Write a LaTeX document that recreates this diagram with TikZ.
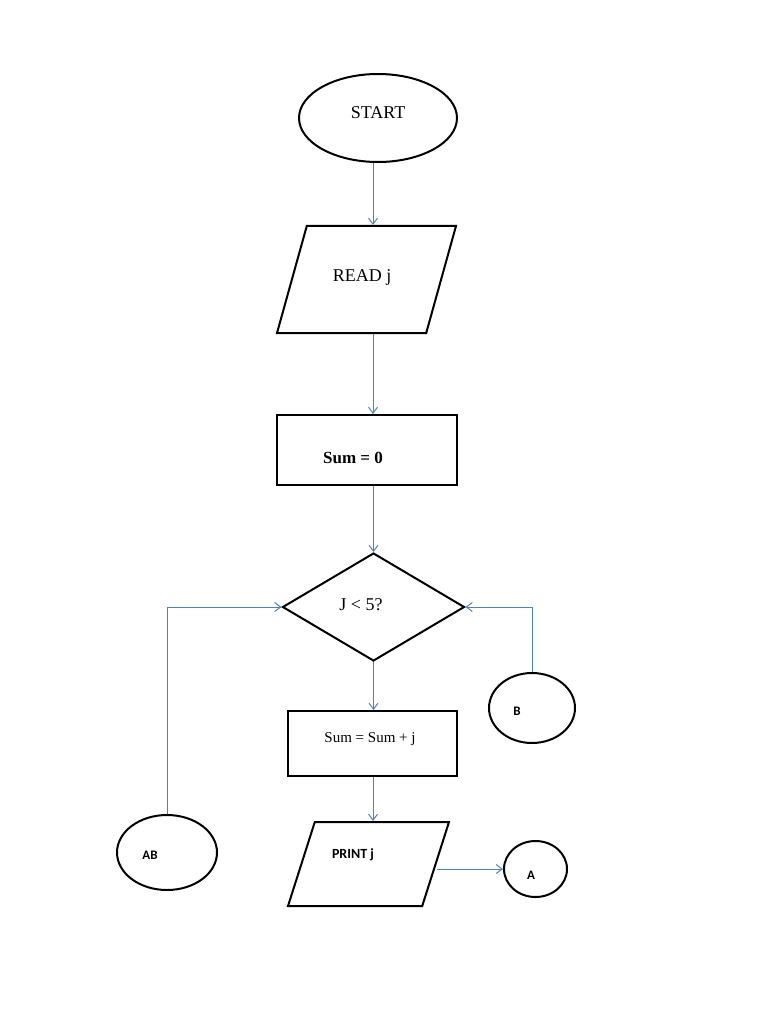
\documentclass[tikz,border=0pt]{standalone}
\usepackage{fontspec}
\setmainfont{Liberation Serif}
\newfontfamily\calfont{Carlito}
\usetikzlibrary{shapes.geometric,arrows.meta}
\definecolor{linkblue}{RGB}{79,129,189}
\begin{document}
\begin{tikzpicture}[x=1pt,y=-1pt,
        box/.style={draw,line width=2pt,inner sep=0pt},
        term/.style={box,ellipse},
        io/.style={box,trapezium,inner sep=4pt,trapezium left angle=76,trapezium right angle=104,trapezium stretches=true},
        proc/.style={box,rectangle},
        decide/.style={box,diamond},
        link/.style={draw=linkblue,line width=1pt,-{Straight Barb[length=6pt,width=9pt]}},
        serif/.style={font=\fontsize{18}{20}\selectfont},
        sans/.style={font=\calfont\bfseries\fontsize{13}{15}\selectfont}]
        \useasboundingbox (0,0) rectangle (768,1024);
        \coordinate (spine) at (373,0);
        %% Shapes
        \node[term,minimum width=158,minimum height=88] (start) at (378,118) {};
        \node[io,minimum width=179,minimum height=107] (read) at (366.5,279.5) {};
        \node[proc,minimum width=180,minimum height=70] (sumzero) at (367,450) {};
        \node[decide,minimum width=182,minimum height=108] (cond) at (373.5,607) {};
        \node[proc,minimum width=169,minimum height=65] (add) at (372.5,743.5) {};
        \node[io,minimum width=161,minimum height=84] (print) at (368.5,864) {};
        \node[term,minimum width=86,minimum height=70] (conB) at (532,708) {};
        \node[term,minimum width=100,minimum height=75] (conAB) at (167,852.5) {};
        \node[term,minimum width=63,minimum height=56] (conA) at (535.5,869) {};
        %% Labels
        \node[serif] (startlbl) at (378,113) {START};
        \node[serif] (readlbl) at (362,277) {READ j};
        \node[font=\bfseries\fontsize{17}{19}\selectfont] (sumzerolbl) at (353,458) {Sum = 0};
        \node[serif] (condlbl) at (361,605) {J < 5?};
        \node[font=\fontsize{15}{17}\selectfont] (addlbl) at (370,739) {Sum = Sum + j};
        \node[sans,font=\calfont\bfseries\fontsize{14}{16}\selectfont] (printlbl) at (353,855) {PRINT j};
        \node[sans] (conBlbl) at (517,711) {B};
        \node[sans] (conABlbl) at (150,855) {AB};
        \node[sans] (conAlbl) at (531,875) {A};
        %% Flow
        \draw[link] (start.south -| spine) -- (read.north -| spine);
        \draw[link] (read.south -| spine) -- (sumzero.north -| spine);
        \draw[link] (sumzero.south -| cond.north) -- (cond.north);
        \draw[link] (cond.south) -- (add.north -| cond.south);
        \draw[link] (add.south -| spine) -- (print.north -| spine);
        \draw[link] (print.east |- conA.west) -- (conA.west);
        %% Connectors back to the test
        \draw[link] (conB.north) |- (cond.east);
        \draw[link] (conAB.north) |- (cond.west);
    \end{tikzpicture}
\end{document}
